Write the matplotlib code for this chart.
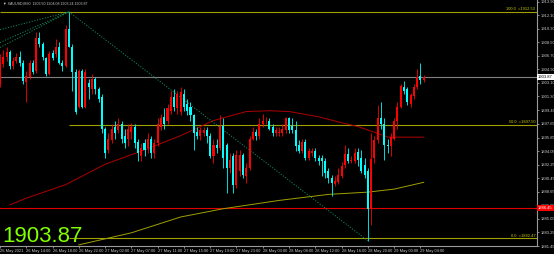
import matplotlib
matplotlib.use("Agg")
import matplotlib.pyplot as plt
import matplotlib.transforms as mtransforms
import numpy as np

# ---------------- data ----------------
opens = [1902.9,1905.6,1906.5,1907.2,1905.3,1906.0,1906.5,1905.8,1903.2,1903.9,
         1905.7,1904.7,1909.1,1908.2,1906.4,1904.3,1907.0,1906.9,1907.9,1905.8,
         1905.3,1910.2,1907.9,1904.5,1899.9,1904.7,1899.9,1903.1,1902.3,1903.6,
         1902.3,1901.2,1897.0,1894.2,1895.5,1897.3,1896.8,1897.7,1896.0,1895.7,
         1896.6,1897.3,1895.3,1893.4,1895.1,1894.4,1895.7,1893.8,1895.1,1897.3,
         1898.6,1898.1,1899.4,1901.2,1899.7,1899.3,1901.6,1900.3,1899.9,1898.8,
         1896.6,1896.1,1896.5,1896.8,1896.0,1893.4,1894.9,1894.4,1897.4,1894.8,
         1891.8,1893.4,1889.6,1891.4,1893.5,1890.8,1891.8,1895.7,1896.6,1896.0,
         1897.7,1898.0,1898.0,1897.3,1896.4,1896.4,1896.4,1896.8,1898.4,1897.4,
         1896.8,1894.9,1894.0,1895.3,1893.1,1893.8,1894.0,1893.1,1893.1,1892.7,
         1891.4,1890.5,1889.7,1890.0,1890.8,1892.2,1893.6,1892.7,1892.7,1893.9,
         1893.1,1892.2,1891.4,1886.3,1893.1,1895.5,1898.4,1897.6,1894.9,1894.7,
         1895.7,1898.0,1899.9,1902.6,1902.3,1900.3,1901.4,1902.6,1904.0,1903.50]
highs = [1906.9,1907.5,1907.8,1907.5,1906.5,1907.0,1907.3,1906.2,1904.7,1906.2,
         1906.2,1909.9,1909.8,1908.5,1906.6,1907.3,1907.5,1908.9,1908.5,1906.2,
         1910.8,1912.53,1908.2,1904.9,1904.9,1904.9,1904.9,1903.6,1904.3,1903.9,
         1902.6,1901.6,1897.3,1896.4,1897.7,1898.1,1898.4,1898.1,1897.0,1897.6,
         1897.8,1897.7,1895.7,1895.1,1895.7,1896.4,1896.1,1895.7,1898.4,1899.0,
         1899.7,1900.3,1902.0,1902.3,1902.0,1902.6,1902.3,1901.0,1900.6,1899.0,
         1897.3,1897.3,1897.3,1897.3,1896.4,1895.7,1895.7,1898.8,1898.4,1895.1,
         1893.8,1893.8,1894.2,1894.2,1893.8,1892.5,1896.0,1897.3,1897.0,1898.4,
         1899.0,1898.6,1898.4,1897.6,1897.3,1897.3,1897.6,1898.6,1898.6,1898.4,
         1898.1,1895.5,1895.7,1895.7,1894.4,1894.4,1894.4,1893.5,1893.5,1893.1,
         1891.8,1890.9,1890.8,1891.8,1892.6,1894.9,1894.4,1893.4,1894.4,1894.4,
         1894.2,1893.1,1891.8,1896.4,1896.0,1900.1,1900.6,1898.4,1895.7,1896.4,
         1898.4,1900.6,1903.0,1903.3,1902.6,1901.8,1903.0,1904.9,1905.8,1904.08]
lows = [1902.6,1905.2,1906.0,1904.9,1904.9,1905.7,1905.4,1902.9,1900.6,1903.6,
        1904.3,1904.4,1907.8,1906.2,1904.0,1904.1,1906.1,1906.6,1905.6,1904.7,
        1905.2,1907.8,1902.0,1899.0,1899.7,1899.7,1899.7,1901.0,1901.6,1901.6,
        1900.6,1896.4,1893.1,1893.8,1895.1,1895.7,1896.4,1895.1,1894.4,1894.7,
        1895.7,1894.4,1892.7,1892.7,1893.4,1893.8,1893.1,1893.1,1894.7,1896.8,
        1897.0,1897.7,1899.0,1899.4,1899.0,1898.9,1899.4,1898.9,1898.1,1894.2,
        1895.7,1895.5,1896.0,1895.1,1893.1,1892.5,1893.8,1894.2,1891.8,1888.5,
        1891.1,1888.5,1889.2,1890.8,1890.5,1889.8,1891.5,1895.5,1895.5,1895.7,
        1897.3,1897.6,1896.8,1896.1,1896.1,1896.1,1896.1,1896.5,1896.5,1896.5,
        1894.0,1893.8,1893.8,1892.8,1892.8,1893.4,1892.7,1892.2,1890.8,1890.5,
        1889.8,1888.1,1889.4,1889.7,1890.5,1891.8,1892.5,1892.5,1892.5,1892.1,
        1891.1,1890.5,1882.15,1884.2,1892.5,1895.1,1897.0,1892.8,1893.8,1893.4,
        1895.5,1897.0,1899.7,1901.6,1900.1,1899.9,1901.0,1902.3,1902.9,1903.24]
closes = [1905.8,1906.5,1907.2,1905.3,1906.0,1906.5,1905.8,1903.3,1904.0,1905.8,
          1904.5,1909.1,1908.2,1906.5,1904.3,1906.9,1906.4,1907.9,1905.8,1905.3,
          1910.2,1907.9,1904.5,1899.3,1904.7,1899.9,1904.5,1902.6,1903.6,1902.3,
          1901.0,1897.0,1893.8,1895.7,1897.0,1896.4,1897.7,1895.7,1895.1,1897.0,
          1897.3,1895.1,1893.8,1894.4,1894.2,1895.7,1893.8,1895.1,1897.7,1898.4,
          1897.7,1899.7,1901.2,1899.9,1901.6,1901.9,1899.9,1899.4,1898.8,1896.4,
          1896.1,1896.8,1896.8,1896.0,1893.4,1894.8,1894.4,1897.4,1893.1,1891.8,
          1892.8,1889.6,1893.5,1893.5,1890.9,1891.8,1895.7,1896.6,1896.0,1897.7,
          1898.1,1898.1,1897.0,1896.4,1896.8,1896.6,1897.0,1898.4,1896.8,1896.8,
          1894.7,1894.0,1895.3,1893.1,1894.0,1894.0,1893.1,1892.7,1892.7,1891.1,
          1890.5,1889.8,1890.1,1890.9,1892.1,1893.6,1892.7,1892.85,1893.8,1892.8,
          1891.4,1890.9,1886.3,1893.0,1895.5,1898.4,1897.6,1894.8,1894.7,1895.9,
          1898.0,1899.9,1902.7,1902.0,1900.6,1901.5,1902.6,1903.9,1903.5,1903.87]

# moving averages read at sparse bars
red_ma_bars = [3, 8, 20, 32, 44, 55, 65, 75, 82, 88, 97, 105, 109, 115, 118, 129]
red_ma_vals = [1886.9, 1887.8, 1889.6, 1892.3, 1894.2, 1896.1, 1898.1, 1899.3, 1899.4,
               1899.3, 1898.6, 1897.7, 1897.3, 1896.4, 1895.9, 1895.9]
olive_ma_bars = [24, 40, 55, 68, 85, 100, 112, 120, 129]
olive_ma_vals = [1881.6, 1883.2, 1885.3, 1886.4, 1887.5, 1888.3, 1888.6, 1889.0, 1889.9]

fib_levels = [100.0, 50.0, 0.0]
fib_prices = [1912.53, 1897.50, 1882.47]
fib_start_bar = [0, 21, 21]

current_price = 1903.87
red_level = 1886.45

y_ticks = [1913.90, 1912.10, 1910.30, 1908.50, 1906.70, 1904.90, 1903.10, 1901.30,
           1899.45, 1897.65, 1895.85, 1894.05, 1892.25, 1890.45, 1888.65, 1886.85,
           1885.05, 1883.25, 1881.45]
x_tick_bars = list(range(0, 136, 8))
x_tick_labels = ["26 May 2021", "26 May 14:00", "26 May 18:00", "26 May 22:00",
                 "27 May 02:00", "27 May 07:00", "27 May 11:00", "27 May 15:00",
                 "27 May 19:00", "27 May 23:00", "28 May 03:00", "28 May 08:00",
                 "28 May 12:00", "28 May 16:00", "28 May 20:00", "29 May 00:00",
                 "29 May 04:00"]

# trend lines (bar, price) pairs
trend_lines = [((21, 1912.53), (112, 1882.15)),
               ((0, 1910.16), (21, 1912.53)),
               ((0, 1908.46), (21, 1912.53)),
               ((0, 1907.80), (21, 1912.53))]

header = "\u25bc XAUUSD,M30  1903.50 1904.08 1903.24 1903.87"

SMALL = ["Liberation Sans", "DejaVu Sans"]
plt.rcParams["font.family"] = SMALL

# ---------------- figure ----------------
W, H = 554, 254
fig = plt.figure(figsize=(W/100, H/100), dpi=100, facecolor="black")
ax = fig.add_axes([0, 8/H, 537/W, 246/H])
ax.set_facecolor("black")

n = len(opens)
idx = np.arange(n)
o = np.array(opens); c = np.array(closes); h = np.array(highs); l = np.array(lows)
up = c >= o
cols = np.where(up, "#ff0000", "#00ffff")

ax.vlines(idx, l, h, colors=cols, linewidth=0.6, zorder=3)
body_bot = np.minimum(o, c)
body_h = np.maximum(np.abs(c - o), 0.08)
ax.bar(idx, body_h, bottom=body_bot, width=0.62, color=cols, linewidth=0, zorder=4)

# MAs
ax.plot(red_ma_bars, red_ma_vals, color="#b00000", linewidth=0.7, zorder=2)
ax.plot(olive_ma_bars, olive_ma_vals, color="#a0a000", linewidth=0.7, zorder=2)

# horizontal levels
xmin, xmax = 0.24, 163.5
ax.axhline(current_price, color="#808080", linewidth=0.8, zorder=1)
ax.axhline(red_level, color="#e00000", linewidth=0.8, zorder=1)
for lev, pr, sb in zip(fib_levels, fib_prices, fib_start_bar):
    ax.hlines(pr, sb, xmax, color="#a0a000", linewidth=0.8, zorder=1)
    ax.text(xmax - 0.5, pr + 0.1, f"{lev:.1f}  ={pr:.2f}", color="#c8c800",
            fontsize=2.9, ha="right", va="bottom", zorder=6)

for (b0, p0), (b1, p1) in trend_lines:
    ax.plot([b0, b1], [p0, p1], color="#0f8a5a", linewidth=0.7,
            linestyle=(0, (1.2, 1.6)), zorder=2)

ax.set_xlim(xmin, xmax)
ax.set_ylim(1881.82, 1914.10)

for s in ["left", "top"]:
    ax.spines[s].set_visible(False)
for s in ["right", "bottom"]:
    ax.spines[s].set_color("#9a9a9a")
    ax.spines[s].set_linewidth(0.8)

ax.yaxis.tick_right()
ax.set_yticks(y_ticks)
ax.set_yticklabels([f"{v:.2f}" for v in y_ticks])
ax.tick_params(axis="y", colors="#9a9a9a", labelcolor="#c8c8c8", labelsize=3.0,
               length=1.5, width=0.6, pad=1)
ax.set_xticks(x_tick_bars)
ax.set_xticklabels(x_tick_labels, ha="left")
ax.tick_params(axis="x", colors="#9a9a9a", labelcolor="#c8c8c8", labelsize=2.85,
               length=1.5, width=0.6, pad=0.8)

# price boxes on right axis
trans = mtransforms.blended_transform_factory(ax.transAxes, ax.transData)
ax.text(1.002, current_price, f"{current_price:.2f}", transform=trans, fontsize=3.0,
        color="black", va="center", ha="left", clip_on=False,
        bbox=dict(facecolor="white", edgecolor="none", pad=0.6), zorder=7)
ax.text(1.002, red_level, f"{red_level:.2f}", transform=trans, fontsize=3.0,
        color="white", va="center", ha="left", clip_on=False,
        bbox=dict(facecolor="#ff0000", edgecolor="none", pad=0.6), zorder=7)

fig.text(3/W, 1 - 1.5/H, header, color="#c8c8c8", fontsize=2.6, ha="left", va="top")
fig.text(2/W, 1 - 242/H, f"{current_price:.2f}", color="#7fff00", fontsize=16,
         ha="left", va="baseline", family=["Liberation Sans", "DejaVu Sans"])

fig.savefig("out.png", dpi=100, facecolor="black")
